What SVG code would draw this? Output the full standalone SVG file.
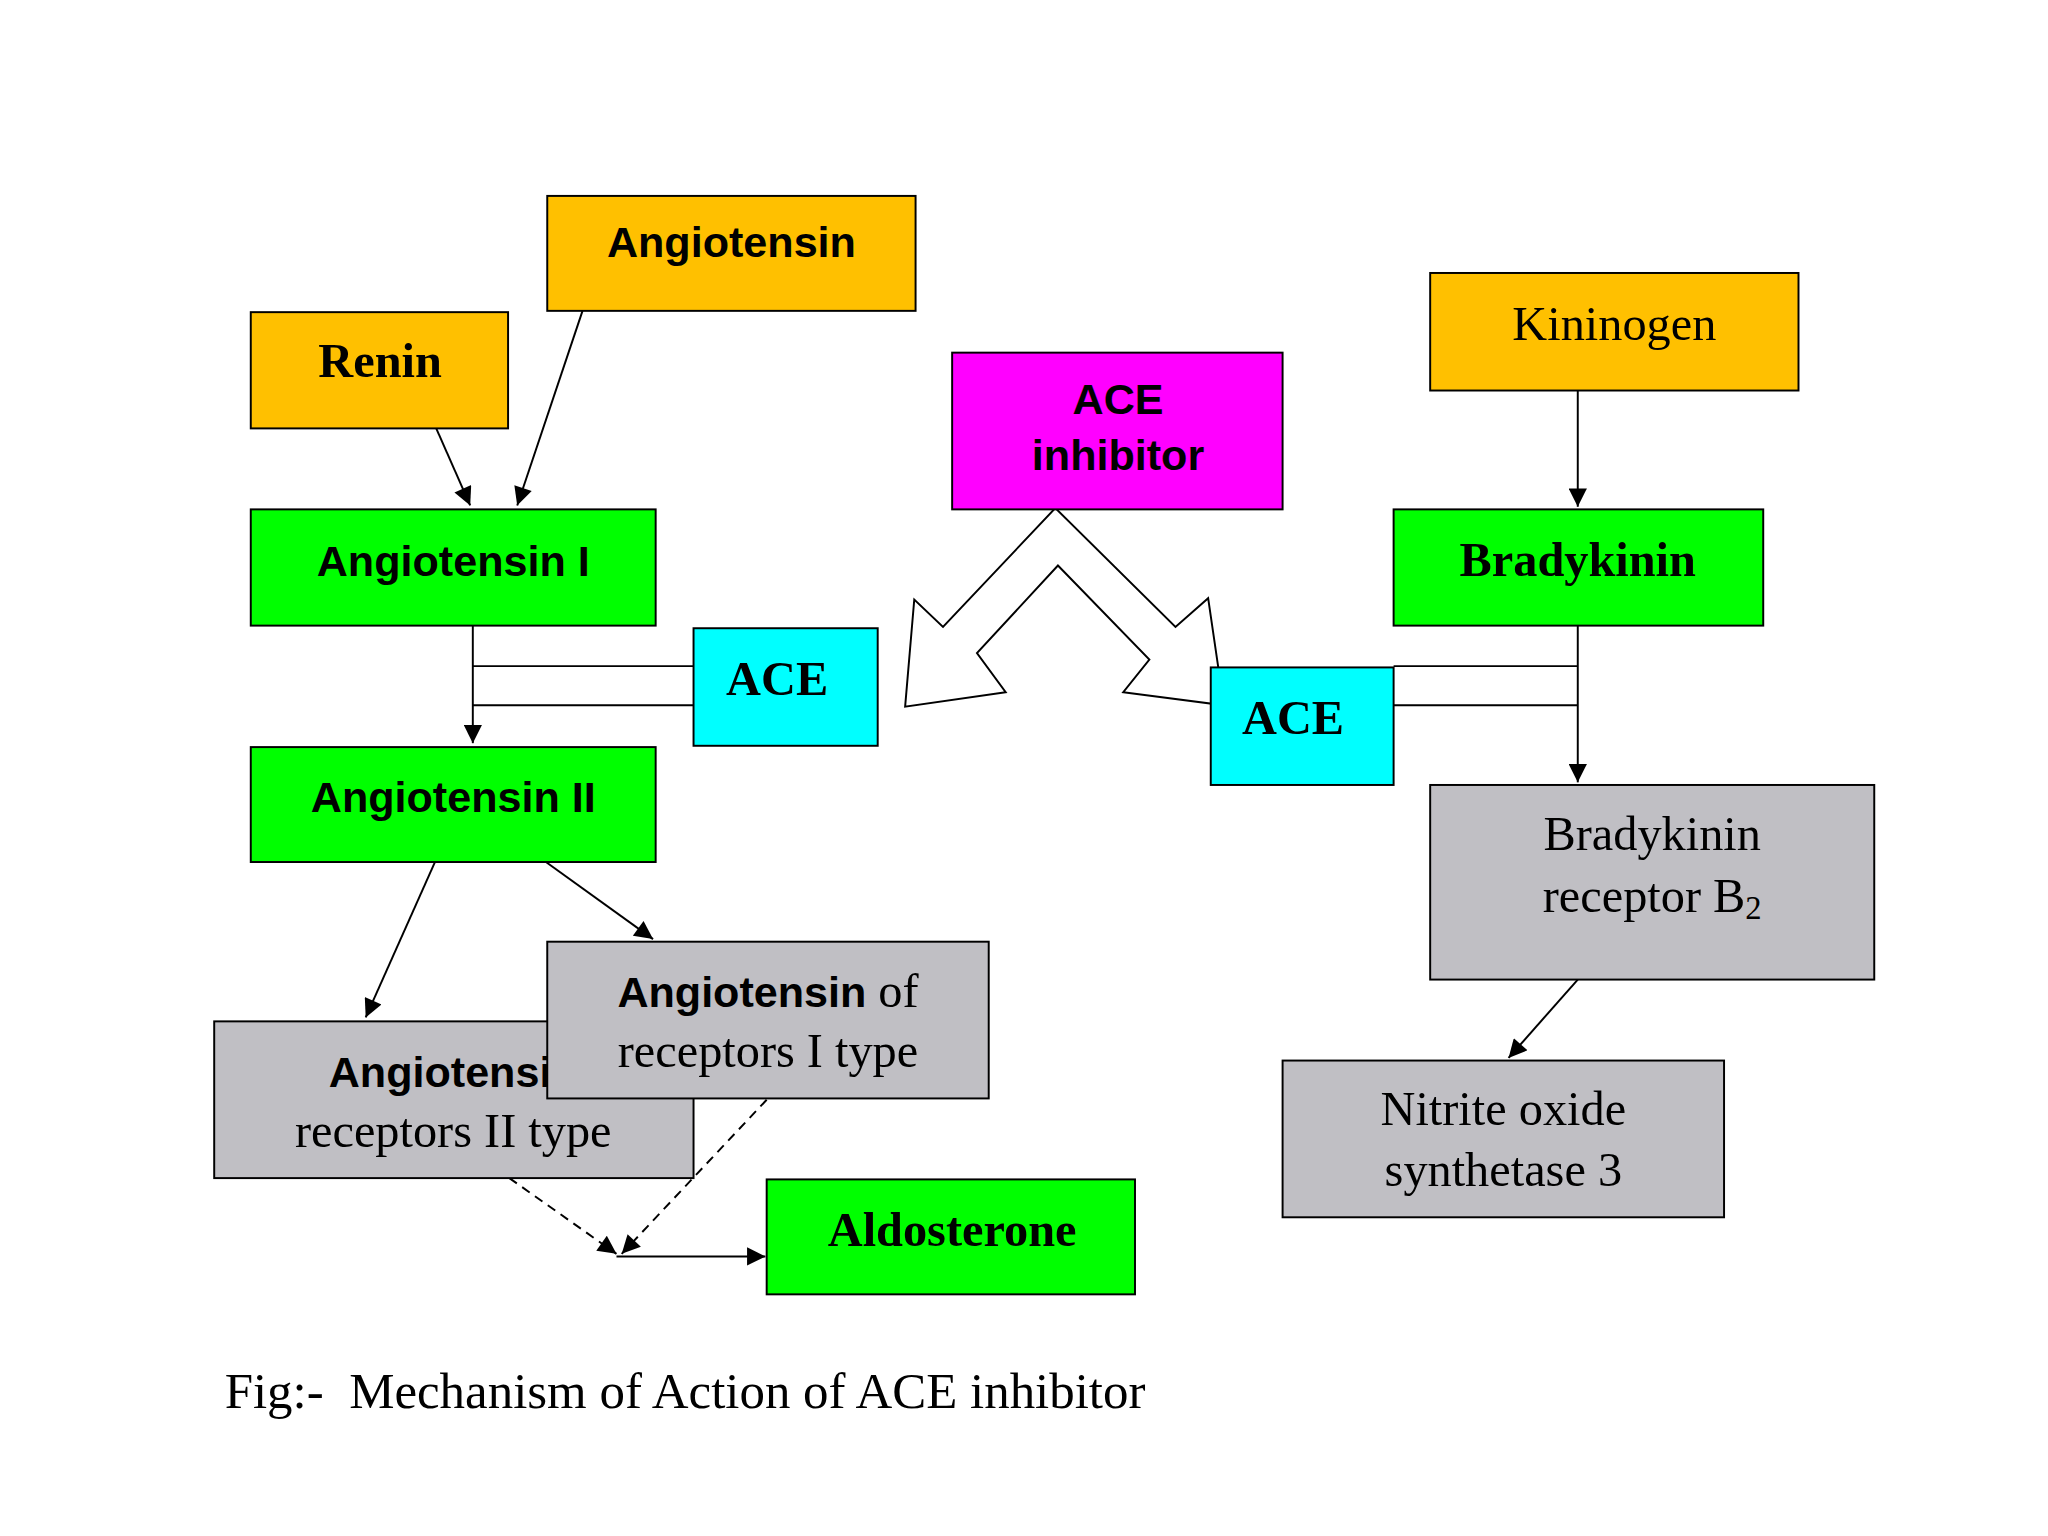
<svg xmlns="http://www.w3.org/2000/svg" width="2048" height="1536" viewBox="0 0 2048 1536">
<defs>
<style>
.b{stroke:#000;stroke-width:1.5}
.o{fill:#FFC000}.g{fill:#00FF00}.c{fill:#00FFFF}.m{fill:#FF00FF}.y{fill:#C0BFC4}
.sa{font-family:"Liberation Sans",Arial,sans-serif;font-weight:bold;font-size:33px;text-anchor:middle}
.sr{font-family:"Liberation Serif","Times New Roman",serif;font-size:37px;text-anchor:middle}
.sb{font-family:"Liberation Serif","Times New Roman",serif;font-weight:bold;font-size:37px;text-anchor:middle}
.l{stroke:#000;stroke-width:1.5;fill:none}
</style>
<marker id="a" viewBox="0 0 10 10" refX="10" refY="5" markerWidth="16" markerHeight="14" markerUnits="userSpaceOnUse" orient="auto"><path d="M0,0L10,5L0,10z" fill="#000"/></marker>
</defs>
<rect width="2048" height="1536" fill="#fff"/>
<g transform="scale(1.3061)">
<g id="connectors">
<line class="l" x1="334" y1="328" x2="360" y2="387" marker-end="url(#a)"/>
<line class="l" x1="446" y1="238" x2="396" y2="387" marker-end="url(#a)"/>
<line class="l" x1="362" y1="479" x2="362" y2="569" marker-end="url(#a)"/>
<line class="l" x1="362" y1="510" x2="531" y2="510"/>
<line class="l" x1="362" y1="540" x2="531" y2="540"/>
<line class="l" x1="333" y1="660" x2="280" y2="779" marker-end="url(#a)"/>
<line class="l" x1="418" y1="660" x2="500" y2="719" marker-end="url(#a)"/>
<line class="l" x1="390" y1="902" x2="472" y2="960" marker-end="url(#a)" style="stroke-dasharray:7,5"/>
<line class="l" x1="587" y1="842" x2="476" y2="960" marker-end="url(#a)" style="stroke-dasharray:7,5"/>
<line class="l" x1="472" y1="962" x2="586" y2="962" marker-end="url(#a)"/>
<line class="l" x1="1208" y1="299" x2="1208" y2="388" marker-end="url(#a)"/>
<line class="l" x1="1208" y1="479" x2="1208" y2="599" marker-end="url(#a)"/>
<line class="l" x1="1067" y1="510" x2="1208" y2="510"/>
<line class="l" x1="1067" y1="540" x2="1208" y2="540"/>
<line class="l" x1="1208" y1="750" x2="1155" y2="810" marker-end="url(#a)"/>
<polygon points="808,389 900,480 925,458 937,540 860,530 880,505 810,433 748,500 770,530 693,541 700,459 722,480" fill="#fff" stroke="#000" stroke-width="1.5"/>
</g>
<g id="angiotensin"><rect class="b o" x="419" y="150" width="282" height="88"/><text class="sa" x="560" y="197">Angiotensin</text></g>
<g id="renin"><rect class="b o" x="192" y="239" width="197" height="89"/><text class="sb" x="291" y="289">Renin</text></g>
<g id="ang1"><rect class="b g" x="192" y="390" width="310" height="89"/><text class="sa" x="347" y="441">Angiotensin I</text></g>
<g id="ace-left"><rect class="b c" x="531" y="481" width="141" height="90"/><text class="sb" x="595" y="532">ACE</text></g>
<g id="ang2"><rect class="b g" x="192" y="572" width="310" height="88"/><text class="sa" x="347" y="622">Angiotensin II</text></g>
<g id="rec2"><rect class="b y" x="164" y="782" width="367" height="120"/><text class="sa" x="347" y="832">Angiotensin</text><text class="sr" x="347" y="878">receptors II type</text></g>
<g id="rec1"><rect class="b y" x="419" y="721" width="338" height="120"/><text class="sa" x="588" y="771">Angiotensin <tspan style="font-family:'Liberation Serif',serif;font-weight:normal;font-size:37px">of</tspan></text><text class="sr" x="588" y="817">receptors I type</text></g>
<g id="aldosterone"><rect class="b g" x="587" y="903" width="282" height="88"/><text class="sb" x="729" y="954">Aldosterone</text></g>
<g id="ace-inhibitor"><rect class="b m" x="729" y="270" width="253" height="120"/><text class="sa" x="856" y="317">ACE</text><text class="sa" x="856" y="360">inhibitor</text></g>
<g id="kininogen"><rect class="b o" x="1095" y="209" width="282" height="90"/><text class="sr" x="1236" y="260">Kininogen</text></g>
<g id="bradykinin"><rect class="b g" x="1067" y="390" width="283" height="89"/><text class="sb" x="1208" y="441">Bradykinin</text></g>
<g id="ace-right"><rect class="b c" x="927" y="511" width="140" height="90"/><text class="sb" x="990" y="562">ACE</text></g>
<g id="b2"><rect class="b y" x="1095" y="601" width="340" height="149"/><text class="sr" x="1265" y="651">Bradykinin</text><text class="sr" x="1265" y="698">receptor B<tspan font-size="25" dy="6">2</tspan></text></g>
<g id="nos3"><rect class="b y" x="982" y="812" width="338" height="120"/><text class="sr" x="1151" y="861">Nitrite oxide</text><text class="sr" x="1151" y="908">synthetase 3</text></g>
<text x="172" y="1078" style="font-family:'Liberation Serif','Times New Roman',serif;font-size:39px" xml:space="preserve">Fig:-  Mechanism of Action of ACE inhibitor</text>
</g>
</svg>
